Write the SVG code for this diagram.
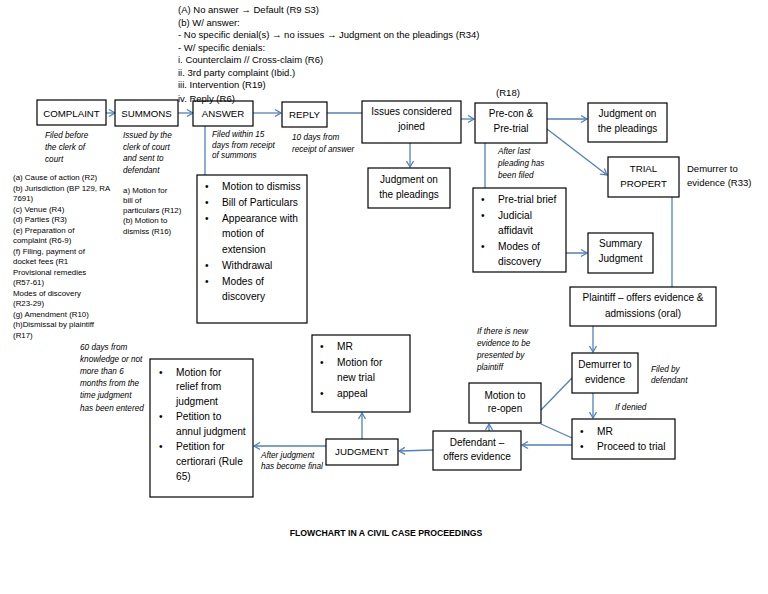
<svg xmlns="http://www.w3.org/2000/svg" width="768" height="594" viewBox="0 0 768 594">
<defs>
<marker id="ah" markerUnits="userSpaceOnUse" markerWidth="10" markerHeight="10" refX="8" refY="5" orient="auto">
<path d="M2,1.5 L8,5 L2,8.5" fill="none" stroke="#4f81bd" stroke-width="1.3"/>
</marker>
<style>
.box{fill:#fff;stroke:#000;stroke-width:1.2}
text{font-family:"Liberation Sans",Arial,sans-serif;fill:#000}
.b{font-size:10px}
.cap{font-size:9.7px}
.m{text-anchor:middle}
.l{font-size:10.2px}
.top{font-size:9.5px}
.sm{font-size:7.9px}
.it{font-size:8.2px;font-style:italic}
.ti{font-size:8.7px;font-weight:bold;text-anchor:middle}
.c{fill:none;stroke:#4f81bd;stroke-width:1.3}
.a{marker-end:url(#ah)}
</style>
</defs>
<rect width="768" height="594" fill="#fff"/>

<g id="connectors">
<path class="c a" d="M106,113 H115"/>
<path class="c a" d="M178,113 H193"/>
<path class="c a" d="M253,113 H281"/>
<path class="c" d="M327,113 H362"/>
<path class="c a" d="M410,143 V167"/>
<path class="c" d="M205,126 V175"/>
<path class="c a" d="M461,119 H474"/>
<path class="c a" d="M547,119 H587"/>
<path class="c a" d="M547,129 L607,175"/>
<path class="c" d="M485,143 V188"/>
<path class="c a" d="M547,253 H587"/>
<path class="c" d="M672,197 V287"/>
<path class="c a" d="M593,326 V352"/>
<path class="c a" d="M593,393 V418"/>
<path class="c a" d="M572,445 H522"/>
<path class="c a" d="M489,431 V424"/>
<path class="c" d="M541,410 L572,378"/>
<path class="c" d="M541,424 L572,438"/>
<path class="c a" d="M433,450 L399,451"/>
<path class="c a" d="M362,439 V413"/>
<path class="c a" d="M326,446 H254"/>
</g>

<g id="complaint">
<rect class="box" x="37" y="100" width="69" height="25"/>
<text class="cap m" x="71.5" y="116.5">COMPLAINT</text>
</g>
<g id="summons">
<rect class="box" x="115" y="100" width="63" height="26"/>
<text class="cap m" x="146.5" y="116.5">SUMMONS</text>
</g>
<g id="answer">
<rect class="box" x="193" y="101" width="60" height="25"/>
<text class="cap m" x="223" y="117">ANSWER</text>
</g>
<g id="reply">
<rect class="box" x="282" y="102" width="45" height="25"/>
<text class="cap m" x="304.5" y="118">REPLY</text>
</g>
<g id="issues">
<rect class="box" x="362" y="101" width="99" height="42"/>
<text class="b m" x="411.5" y="115">Issues considered</text>
<text class="b m" x="411.5" y="130">joined</text>
</g>
<g id="judgment-pleadings-1">
<rect class="box" x="368" y="168" width="82" height="40"/>
<text class="b m" x="409" y="183">Judgment on</text>
<text class="b m" x="409" y="198">the pleadings</text>
</g>
<g id="answer-options">
<rect class="box" x="197" y="175" width="110" height="148"/>
<text class="l" x="205" y="190">•</text><text class="l" x="222" y="190">Motion to dismiss</text>
<text class="l" x="205" y="206">•</text><text class="l" x="222" y="206">Bill of Particulars</text>
<text class="l" x="205" y="222">•</text><text class="l" x="222" y="222">Appearance with</text>
<text class="l" x="222" y="237">motion of</text>
<text class="l" x="222" y="253">extension</text>
<text class="l" x="205" y="269">•</text><text class="l" x="222" y="269">Withdrawal</text>
<text class="l" x="205" y="285">•</text><text class="l" x="222" y="285">Modes of</text>
<text class="l" x="222" y="300">discovery</text>
</g>
<g id="precon">
<text class="b" x="496" y="96" style="font-size:9.6px">(R18)</text>
<rect class="box" x="475" y="103" width="72" height="40"/>
<text class="b m" x="511" y="117">Pre-con &amp;</text>
<text class="b m" x="511" y="132">Pre-trial</text>
</g>
<g id="judgment-pleadings-2">
<rect class="box" x="588" y="103" width="79" height="39"/>
<text class="b m" x="627.5" y="117">Judgment on</text>
<text class="b m" x="627.5" y="132">the pleadings</text>
</g>
<g id="trial">
<rect class="box" x="608" y="157" width="71" height="40"/>
<text class="cap m" x="643.5" y="172">TRIAL</text>
<text class="cap m" x="643.5" y="187">PROPERT</text>
<text class="b" x="687" y="172" style="font-size:9.5px">Demurrer to</text>
<text class="b" x="687" y="186" style="font-size:9.5px">evidence (R33)</text>
</g>
<g id="pretrial-list">
<rect class="box" x="473" y="188" width="93" height="84"/>
<text class="l" x="481" y="203">•</text><text class="l" x="498" y="203">Pre-trial brief</text>
<text class="l" x="481" y="219">•</text><text class="l" x="498" y="219">Judicial</text>
<text class="l" x="498" y="234">affidavit</text>
<text class="l" x="481" y="250">•</text><text class="l" x="498" y="250">Modes of</text>
<text class="l" x="498" y="265">discovery</text>
</g>
<g id="summary">
<rect class="box" x="588" y="233" width="65" height="40"/>
<text class="b m" x="620.5" y="247">Summary</text>
<text class="b m" x="620.5" y="262">Judgment</text>
</g>
<g id="plaintiff">
<rect class="box" x="570" y="287" width="146" height="39"/>
<text class="b m" x="643" y="301">Plaintiff – offers evidence &amp;</text>
<text class="b m" x="643" y="317">admissions (oral)</text>
</g>
<g id="demurrer">
<rect class="box" x="572" y="353" width="66" height="40"/>
<text class="b m" x="605" y="368">Demurrer to</text>
<text class="b m" x="605" y="383">evidence</text>
</g>
<g id="mr-proceed">
<rect class="box" x="572" y="419" width="103" height="40"/>
<text class="l" x="580" y="435">•</text><text class="l" x="597" y="435">MR</text>
<text class="l" x="580" y="450">•</text><text class="l" x="597" y="450">Proceed to trial</text>
</g>
<g id="reopen">
<rect class="box" x="469" y="383" width="72" height="40"/>
<text class="b m" x="505" y="399">Motion to</text>
<text class="b m" x="505" y="412">re-open</text>
</g>
<g id="defendant">
<rect class="box" x="433" y="431" width="88" height="39"/>
<text class="b m" x="477" y="446">Defendant –</text>
<text class="b m" x="477" y="460">offers evidence</text>
</g>
<g id="judgment">
<rect class="box" x="326" y="439" width="72" height="26"/>
<text class="cap m" x="362" y="455">JUDGMENT</text>
</g>
<g id="post-judgment">
<rect class="box" x="312" y="335" width="98" height="77"/>
<text class="l" x="320" y="350">•</text><text class="l" x="337" y="350">MR</text>
<text class="l" x="320" y="366">•</text><text class="l" x="337" y="366">Motion for</text>
<text class="l" x="337" y="381">new trial</text>
<text class="l" x="320" y="397">•</text><text class="l" x="337" y="397">appeal</text>
</g>
<g id="final-remedies">
<rect class="box" x="150" y="359" width="103" height="138"/>
<text class="l" x="159" y="376">•</text><text class="l" x="176" y="376">Motion for</text>
<text class="l" x="176" y="390">relief from</text>
<text class="l" x="176" y="405">judgment</text>
<text class="l" x="159" y="420">•</text><text class="l" x="176" y="420">Petition to</text>
<text class="l" x="176" y="435">annul judgment</text>
<text class="l" x="159" y="450">•</text><text class="l" x="176" y="450">Petition for</text>
<text class="l" x="176" y="465">certiorari (Rule</text>
<text class="l" x="176" y="480">65)</text>
</g>

<g id="top-notes">
<text class="top" x="178" y="13">(A) No answer → Default (R9 S3)</text>
<text class="top" x="178" y="25.5">(b) W/ answer:</text>
<text class="top" x="178" y="38">- No specific denial(s) → no issues → Judgment on the pleadings (R34)</text>
<text class="top" x="178" y="50.5">- W/ specific denials:</text>
<text class="top" x="178" y="63">i. Counterclaim // Cross-claim (R6)</text>
<text class="top" x="178" y="75.5">ii. 3rd party complaint (Ibid.)</text>
<text class="top" x="178" y="88">iii. Intervention (R19)</text>
<text class="top" x="178" y="101.5">iv. Reply (R6)</text>
</g>

<g id="notes">
<text class="it" x="45" y="138">Filed before</text>
<text class="it" x="45" y="150">the clerk of</text>
<text class="it" x="45" y="162">court</text>
<text class="it" x="123" y="138">Issued by the</text>
<text class="it" x="123" y="150">clerk of court</text>
<text class="it" x="123" y="161">and sent to</text>
<text class="it" x="123" y="173">defendant</text>
<text class="sm" x="123" y="193">a) Motion for</text>
<text class="sm" x="123" y="203">bill of</text>
<text class="sm" x="123" y="213">particulars (R12)</text>
<text class="sm" x="123" y="223">(b) Motion to</text>
<text class="sm" x="123" y="233.5">dismiss (R16)</text>
<text class="sm" x="13" y="180">(a) Cause of action (R2)</text>
<text class="sm" x="13" y="190.5">(b) Jurisdiction (BP 129, RA</text>
<text class="sm" x="13" y="201">7691)</text>
<text class="sm" x="13" y="211.5">(c) Venue (R4)</text>
<text class="sm" x="13" y="222">(d) Parties (R3)</text>
<text class="sm" x="13" y="232.5">(e) Preparation of</text>
<text class="sm" x="13" y="243">complaint (R6-9)</text>
<text class="sm" x="13" y="253.5">(f) Filing, payment of</text>
<text class="sm" x="13" y="264">docket fees (R1</text>
<text class="sm" x="13" y="274.5">Provisional remedies</text>
<text class="sm" x="13" y="285">(R57-61)</text>
<text class="sm" x="13" y="295.5">Modes of discovery</text>
<text class="sm" x="13" y="306">(R23-29)</text>
<text class="sm" x="13" y="316.5">(g) Amendment (R10)</text>
<text class="sm" x="13" y="327">(h)Dismissal by plaintiff</text>
<text class="sm" x="13" y="338">(R17)</text>
<text class="it" x="212" y="137">Filed within 15</text>
<text class="it" x="212" y="148">days from receipt</text>
<text class="it" x="212" y="158">of summons</text>
<text class="it" x="292" y="140">10 days from</text>
<text class="it" x="292" y="152">receipt of answer</text>
<text class="it" x="498" y="154">After last</text>
<text class="it" x="498" y="166">pleading has</text>
<text class="it" x="498" y="178">been filed</text>
<text class="it" x="477" y="334">If there is new</text>
<text class="it" x="477" y="346">evidence to be</text>
<text class="it" x="477" y="358">presented by</text>
<text class="it" x="477" y="370">plaintiff</text>
<text class="it" x="651" y="372">Filed by</text>
<text class="it" x="651" y="383">defendant</text>
<text class="it" x="615" y="410">If denied</text>
<text class="it" x="261" y="458">After judgment</text>
<text class="it" x="261" y="469">has become final</text>
<text class="it" x="80" y="350">60 days from</text>
<text class="it" x="80" y="362">knowledge or not</text>
<text class="it" x="80" y="374">more than 6</text>
<text class="it" x="80" y="386">months from the</text>
<text class="it" x="80" y="398">time judgment</text>
<text class="it" x="80" y="411">has been entered</text>
</g>

<text id="title" class="ti" x="386" y="536">FLOWCHART IN A CIVIL CASE PROCEEDINGS</text>
</svg>
